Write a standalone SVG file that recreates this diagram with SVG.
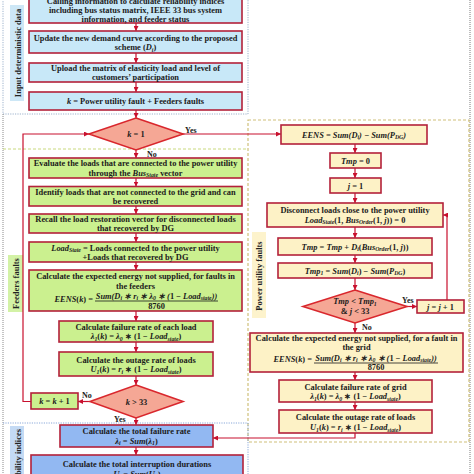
<svg xmlns="http://www.w3.org/2000/svg" width="474" height="474" viewBox="0 0 474 474">
<style>
.t{font-family:"Liberation Serif",serif;font-weight:bold;font-size:8.4px;text-anchor:middle;fill:#1b1b1b}
.m{font-style:italic}
.s{font-size:5.8px;font-style:italic}
.n{font-style:normal}
.lab{font-family:"Liberation Serif",serif;font-weight:bold;font-size:8.5px;fill:#222}
.yn{font-family:"Liberation Serif",serif;font-weight:bold;font-size:8px;fill:#222}
.bi{fill:#c8e8f8;stroke:#b3213a;stroke-width:1.6}
.bg{fill:#cbf08f;stroke:#b3213a;stroke-width:1.6}
.by{fill:#fdf2c6;stroke:#b3213a;stroke-width:1.6}
.bb{fill:#92b8f2;stroke:#b3213a;stroke-width:1.6}
.dm{fill:#f5a795;stroke:#d9272d;stroke-width:1.6}
.c{fill:none;stroke:#c8102e;stroke-width:1.2}
.ca{fill:none;stroke:#c8102e;stroke-width:1.2;marker-end:url(#a)}
.fb{stroke:#1b1b1b;stroke-width:0.8}
</style>
<defs>
<marker id="a" viewBox="0 0 6 6" refX="6" refY="3" markerWidth="5" markerHeight="5" orient="auto" markerUnits="userSpaceOnUse"><path d="M0,0L6,3L0,6z" fill="#c8102e"/></marker>
</defs>
<rect width="474" height="474" fill="#ffffff"/>

<g id="panels" fill="none">
<rect x="3" y="-2" width="245" height="116" stroke="#9db2cc" stroke-dasharray="1.2,1.2"/>
<line x1="470" y1="0" x2="470" y2="474" stroke="#7a7a7a" stroke-dasharray="1,1"/>
<line x1="3" y1="114" x2="3" y2="474" stroke="#8a8a8a" stroke-dasharray="1,1"/>
<line x1="3" y1="149" x2="248" y2="149" stroke="#c9d97e" stroke-dasharray="3,2"/>
<rect x="248" y="120" width="221" height="322" stroke="#cfc07a" stroke-dasharray="3,2" stroke-width="1.2"/>
<path d="M3,423H248V474" stroke="#8ba9d9" stroke-dasharray="1.2,1.2"/>
</g>

<g id="panel-labels">
<rect x="10" y="5" width="14" height="96" fill="#cde7f6"/>
<text class="lab" text-anchor="middle" transform="translate(20.5,53) rotate(-90)">Input deterministic data</text>
<rect x="8" y="255" width="15" height="57" fill="#d3f2a6"/>
<text class="lab" text-anchor="middle" transform="translate(19,283.5) rotate(-90)">Feeders faults</text>
<rect x="252" y="232" width="14" height="86" fill="#fdf3cc"/>
<text class="lab" text-anchor="middle" transform="translate(262,276) rotate(-90)">Power utility faults</text>
<rect x="10" y="426" width="14" height="60" fill="#c4daf4"/>
<text class="lab" text-anchor="end" transform="translate(20.5,429) rotate(-90)">Reliability indices</text>
</g>

<g id="connectors">
<path class="ca" d="M136,23V31"/>
<path class="ca" d="M136,53V63"/>
<path class="ca" d="M136,82V92"/>
<path class="ca" d="M136,110V118"/>
<path class="ca" d="M136,150V158"/>
<path class="ca" d="M136,178V186.5"/>
<path class="ca" d="M136,206V214"/>
<path class="ca" d="M136,233V242"/>
<path class="ca" d="M136,262V270"/>
<path class="ca" d="M136,311V321"/>
<path class="ca" d="M136,342V352"/>
<path class="ca" d="M136,376V385"/>
<path class="ca" d="M136,418V425"/>
<path class="ca" d="M136,447V455"/>
<path class="ca" d="M183,134H281"/>
<path class="ca" d="M90,401.5H78"/>
<path class="ca" d="M31,401.5H23V134H89"/>
<path class="ca" d="M355,144V153"/>
<path class="ca" d="M355,168V178"/>
<path class="ca" d="M355,193V203"/>
<path class="ca" d="M355,227V238"/>
<path class="ca" d="M355,255V263"/>
<path class="ca" d="M355,278V290"/>
<path class="ca" d="M407,306.5H417"/>
<path class="ca" d="M447,300V215H443"/>
<path class="ca" d="M355,323V333"/>
<path class="ca" d="M355,372V380"/>
<path class="ca" d="M355,402V410"/>
<path class="ca" d="M355,433V438H213"/>
<text class="yn" x="185" y="132.5">Yes</text>
<text class="yn" x="147" y="157">No</text>
<text class="yn" x="82" y="398">No</text>
<text class="yn" x="114" y="422">Yes</text>
<text class="yn" x="402" y="303">Yes</text>
<text class="yn" x="362" y="330">No</text>
</g>

<g id="n-calling">
<rect class="bi" x="29" y="-8" width="213" height="31"/>
<text class="t" x="135.5" y="3.5">Calling information to calculate reliability indices</text>
<text class="t" x="135.5" y="12.7">including bus status matrix, IEEE 33 bus system</text>
<text class="t" x="135.5" y="21.7">information, and feeder status</text>
</g>
<g id="n-update">
<rect class="bi" x="29" y="31" width="213" height="22"/>
<text class="t" x="135.5" y="40.5">Update the new demand curve according to the proposed</text>
<text class="t" x="135.5" y="50">scheme (<tspan class="m">D</tspan><tspan class="s" dy="1.8">i</tspan><tspan dy="-1.8">)</tspan></text>
</g>
<g id="n-upload">
<rect class="bi" x="29" y="63" width="213" height="19"/>
<text class="t" x="135.5" y="71">Upload the matrix of elasticity load and level of</text>
<text class="t" x="135.5" y="80">customers’ participation</text>
</g>
<g id="n-k">
<rect class="bi" x="29" y="92" width="213" height="18"/>
<text class="t" x="135.5" y="104.3"><tspan class="m">k</tspan> = Power utility fault + Feeders faults</text>
</g>
<g id="d-k1">
<polygon class="dm" points="136,118 183,134 136,150 89,134"/>
<text class="t" x="136" y="137"><tspan class="m">k</tspan> = 1</text>
</g>

<g id="n-evaluate">
<rect class="bg" x="29" y="158" width="213" height="20"/>
<text class="t" x="135.5" y="166.3">Evaluate the loads that are connected to the power utility</text>
<text class="t" x="135.5" y="175.6">through the <tspan class="m">Bus</tspan><tspan class="s" dy="1.8">State</tspan><tspan dy="-1.8"> vector</tspan></text>
</g>
<g id="n-identify">
<rect class="bg" x="29" y="186.5" width="213" height="19.5"/>
<text class="t" x="135.5" y="195">Identify loads that are not connected to the grid and can</text>
<text class="t" x="135.5" y="203.6">be recovered</text>
</g>
<g id="n-recall">
<rect class="bg" x="29" y="214" width="213" height="19"/>
<text class="t" x="135.5" y="222">Recall the load restoration vector for disconnected loads</text>
<text class="t" x="135.5" y="231">that recovered by DG</text>
</g>
<g id="n-loadstate">
<rect class="bg" x="29" y="242" width="213" height="20"/>
<text class="t" x="135.5" y="250.5"><tspan class="m">Load</tspan><tspan class="s" dy="1.8">State</tspan><tspan dy="-1.8"> = Loads connected to the power utility</tspan></text>
<text class="t" x="135.5" y="259.8">+Loads that recovered by DG</text>
</g>
<g id="n-eens-feeders">
<rect class="bg" x="29" y="270" width="213" height="41"/>
<text class="t" x="135.5" y="279">Calculate the expected energy not supplied, for faults in</text>
<text class="t" x="135.5" y="288.5">the feeders</text>
<text class="t" x="93" y="301.5" style="text-anchor:end"><tspan class="m">EENS</tspan>(<tspan class="m">k</tspan>) =</text>
<text class="t m" x="156.5" y="298.5">Sum(D<tspan class="s" dy="1.8">i</tspan><tspan dy="-1.8"> ∗ r</tspan><tspan class="s" dy="1.8">i</tspan><tspan dy="-1.8"> ∗ λ</tspan><tspan class="s" dy="1.8">0</tspan><tspan dy="-1.8"> ∗ (</tspan><tspan class="n">1 − </tspan>Load<tspan class="s" dy="1.8">state</tspan><tspan dy="-1.8">))</tspan></text>
<line class="fb" x1="95" y1="301" x2="218" y2="301"/>
<text class="t" x="156.5" y="308.6">8760</text>
</g>
<g id="n-failure-load">
<rect class="bg" x="59" y="321" width="154" height="21"/>
<text class="t" x="136" y="329.9">Calculate failure rate of each load</text>
<text class="t" x="136" y="339.2"><tspan class="m">λ</tspan><tspan class="s" dy="1.8">1</tspan><tspan dy="-1.8">(</tspan><tspan class="m">k</tspan>) = <tspan class="m">λ</tspan><tspan class="s" dy="1.8">0</tspan><tspan dy="-1.8"> ∗ (1 − </tspan><tspan class="m">Load</tspan><tspan class="s" dy="1.8">state</tspan><tspan dy="-1.8">)</tspan></text>
</g>
<g id="n-outage-loads">
<rect class="bg" x="59" y="352" width="154" height="24"/>
<text class="t" x="136" y="362.5">Calculate the outage rate of loads</text>
<text class="t" x="136" y="372"><tspan class="m">U</tspan><tspan class="s" dy="1.8">1</tspan><tspan dy="-1.8">(</tspan><tspan class="m">k</tspan>) = <tspan class="m">r</tspan><tspan class="s" dy="1.8">i</tspan><tspan dy="-1.8"> ∗ (1 − </tspan><tspan class="m">Load</tspan><tspan class="s" dy="1.8">state</tspan><tspan dy="-1.8">)</tspan></text>
</g>
<g id="n-kinc">
<rect class="bg" x="31" y="393" width="47" height="16"/>
<text class="t" x="54.5" y="404"><tspan class="m">k</tspan> = <tspan class="m">k</tspan> + 1</text>
</g>
<g id="d-k33">
<polygon class="dm" points="136,385 183,401.5 136,418 90,401.5"/>
<text class="t" x="136.5" y="404.5"><tspan class="m">k</tspan> &gt; 33</text>
</g>

<g id="n-total-failure">
<rect class="bb" x="60" y="425" width="153" height="22"/>
<text class="t" x="136.5" y="434">Calculate the total failure rate</text>
<text class="t" x="136.5" y="443.5"><tspan class="m">λ</tspan><tspan class="s" dy="1.8">i</tspan><tspan dy="-1.8"> = </tspan><tspan class="m">Sum</tspan>(<tspan class="m">λ</tspan><tspan class="s" dy="1.8">1</tspan><tspan dy="-1.8">)</tspan></text>
</g>
<g id="n-total-dur">
<rect class="bb" x="31" y="455" width="212" height="30"/>
<text class="t" x="137" y="467">Calculate the total interruption durations</text>
<text class="t" x="137" y="477"><tspan class="m">U</tspan><tspan class="s" dy="1.8">i</tspan><tspan dy="-1.8"> = </tspan><tspan class="m">Sum</tspan>(<tspan class="m">U</tspan><tspan class="s" dy="1.8">1</tspan><tspan dy="-1.8">)</tspan></text>
</g>

<g id="n-eens-grid0">
<rect class="by" x="281" y="125" width="146" height="19"/>
<text class="t m" x="354" y="137.5">EENS = Sum(D<tspan class="s" dy="1.8">i</tspan><tspan dy="-1.8">) − Sum(P</tspan><tspan class="s" dy="1.8">DG</tspan><tspan dy="-1.8">)</tspan></text>
</g>
<g id="n-tmp0">
<rect class="by" x="330" y="153" width="51" height="15"/>
<text class="t" x="355.5" y="163.5"><tspan class="m">Tmp</tspan> = 0</text>
</g>
<g id="n-j1">
<rect class="by" x="330" y="178" width="51" height="15"/>
<text class="t" x="355.5" y="188.5"><tspan class="m">j</tspan> = 1</text>
</g>
<g id="n-disconnect">
<rect class="by" x="267" y="203" width="176" height="24"/>
<text class="t" x="355" y="213">Disconnect loads close to the power utility</text>
<text class="t" x="355" y="222.5"><tspan class="m">Load</tspan><tspan class="s" dy="1.8">State</tspan><tspan dy="-1.8">(1, </tspan><tspan class="m">Bus</tspan><tspan class="s" dy="1.8">Order</tspan><tspan dy="-1.8">(1, </tspan><tspan class="m">j</tspan>)) = 0</text>
</g>
<g id="n-tmpsum">
<rect class="by" x="278" y="238" width="154" height="17"/>
<text class="t" x="355" y="249.5"><tspan class="m">Tmp</tspan> = <tspan class="m">Tmp</tspan> + <tspan class="m">D</tspan><tspan class="s" dy="1.8">i</tspan><tspan dy="-1.8">(</tspan><tspan class="m">Bus</tspan><tspan class="s" dy="1.8">Order</tspan><tspan dy="-1.8">(1, </tspan><tspan class="m">j</tspan>))</text>
</g>
<g id="n-tmp1">
<rect class="by" x="278" y="263" width="154" height="15"/>
<text class="t" x="355" y="273.5"><tspan class="m">Tmp</tspan><tspan class="s" dy="1.8">1</tspan><tspan dy="-1.8"> = </tspan><tspan class="m">Sum</tspan>(<tspan class="m">D</tspan><tspan class="s" dy="1.8">i</tspan><tspan dy="-1.8">) − </tspan><tspan class="m">Sum</tspan>(<tspan class="m">P</tspan><tspan class="s" dy="1.8">DG</tspan><tspan dy="-1.8">)</tspan></text>
</g>
<g id="d-tmp">
<polygon class="dm" points="355,290 407,306.5 355,323 303,306.5"/>
<text class="t" x="355" y="304"><tspan class="m">Tmp</tspan> &lt; <tspan class="m">Tmp</tspan><tspan class="s" dy="1.8">1</tspan></text>
<text class="t" x="355" y="313.5">&amp; <tspan class="m">j</tspan> &lt; 33</text>
</g>
<g id="n-jinc">
<rect class="by" x="417" y="300" width="47" height="13"/>
<text class="t" x="440.5" y="309.5"><tspan class="m">j</tspan> = <tspan class="m">j</tspan> + 1</text>
</g>
<g id="n-eens-grid">
<rect class="by" x="250" y="333" width="213" height="39"/>
<text class="t" x="356.5" y="340.5">Calculate the expected energy not supplied, for a fault in</text>
<text class="t" x="356.5" y="349.5">the grid</text>
<text class="t" x="312" y="362" style="text-anchor:end"><tspan class="m">EENS</tspan>(<tspan class="m">k</tspan>) =</text>
<text class="t m" x="376" y="360.5">Sum(D<tspan class="s" dy="1.8">i</tspan><tspan dy="-1.8"> ∗ r</tspan><tspan class="s" dy="1.8">i</tspan><tspan dy="-1.8"> ∗ λ</tspan><tspan class="s" dy="1.8">0</tspan><tspan dy="-1.8"> ∗ (</tspan><tspan class="n">1 − </tspan>Load<tspan class="s" dy="1.8">state</tspan><tspan dy="-1.8">))</tspan></text>
<line class="fb" x1="314" y1="363" x2="438" y2="363"/>
<text class="t" x="376" y="370">8760</text>
</g>
<g id="n-failure-grid">
<rect class="by" x="279" y="380" width="153" height="22"/>
<text class="t" x="355.5" y="389.5">Calculate failure rate of grid</text>
<text class="t" x="355.5" y="399"><tspan class="m">λ</tspan><tspan class="s" dy="1.8">1</tspan><tspan dy="-1.8">(</tspan><tspan class="m">k</tspan>) = <tspan class="m">λ</tspan><tspan class="s" dy="1.8">0</tspan><tspan dy="-1.8"> ∗ (1 − </tspan><tspan class="m">Load</tspan><tspan class="s" dy="1.8">state</tspan><tspan dy="-1.8">)</tspan></text>
</g>
<g id="n-outage-grid">
<rect class="by" x="279" y="410" width="153" height="23"/>
<text class="t" x="355.5" y="420">Calculate the outage rate of loads</text>
<text class="t" x="355.5" y="430"><tspan class="m">U</tspan><tspan class="s" dy="1.8">1</tspan><tspan dy="-1.8">(</tspan><tspan class="m">k</tspan>) = <tspan class="m">r</tspan><tspan class="s" dy="1.8">i</tspan><tspan dy="-1.8"> ∗ (1 − </tspan><tspan class="m">Load</tspan><tspan class="s" dy="1.8">state</tspan><tspan dy="-1.8">)</tspan></text>
</g>
</svg>
